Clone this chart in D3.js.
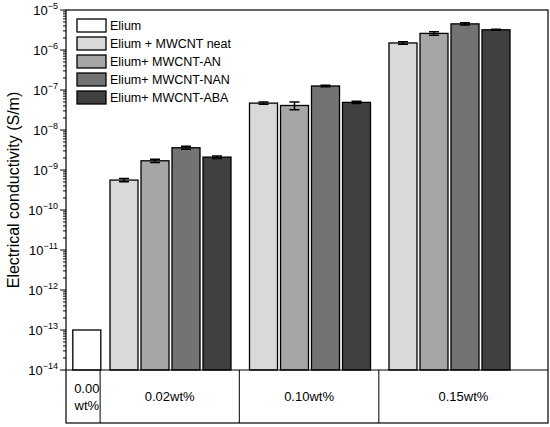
<!DOCTYPE html><html><head><meta charset="utf-8"><script src="https://d3js.org/d3.v7.min.js"></script>
<style>body{margin:0;background:#fff}text{font-family:Arial,"Liberation Sans",sans-serif}</style></head><body><svg id="c" width="550" height="427"></svg>
<script>
const groups=["0.02wt%","0.10wt%","0.15wt%"];
const series=["Elium + MWCNT neat","Elium+ MWCNT-AN","Elium+ MWCNT-NAN","Elium+ MWCNT-ABA"];
const colors=["#d9d9d9","#a6a6a6","#737373","#404040"];
const eliumValue=1e-13;
const values=[[5.6e-10,1.7e-9,3.6e-9,2.1e-9],[4.7e-8,4.1e-8,1.26e-7,4.9e-8],[1.5e-6,2.6e-6,4.5e-6,3.2e-6]];
const errors=[[0.5e-10,0.15e-9,0.3e-9,0.15e-9],[0.3e-8,0.9e-8,0.05e-7,0.3e-8],[0.1e-6,0.25e-6,0.3e-6,0.1e-6]];
const yTicks=[-5,-6,-7,-8,-9,-10,-11,-12,-13,-14];
const svg=d3.select("#c");
const L=66,R=548,T=10,B=370,TB=423;
const y=d3.scaleLog().domain([1e-14,1e-5]).range([B,T]);
const x=d3.scaleLinear().domain([0,1]).range([124,155]);
const bw=28;
const slot=(g,i)=>g*4.5+i;
svg.append("rect").attr("x",x(-1.2)-14).attr("y",y(eliumValue)).attr("width",bw).attr("height",B-y(eliumValue)).attr("fill","#fff").attr("stroke","#000").attr("stroke-width",1.3);
values.forEach((vs,g)=>vs.forEach((v,i)=>{
 const cx=x(slot(g,i));
 svg.append("rect").attr("x",cx-bw/2).attr("y",y(v)).attr("width",bw).attr("height",B-y(v)).attr("fill",colors[i]).attr("stroke","#000").attr("stroke-width",1.3);
 const e=errors[g][i];
 svg.append("path").attr("d",`M${cx},${y(v+e)}V${y(v-e)}M${cx-5},${y(v+e)}H${cx+5}M${cx-5},${y(v-e)}H${cx+5}`).attr("stroke","#000").attr("stroke-width",1.5).attr("fill","none");
}));
svg.append("rect").attr("x",L).attr("y",T).attr("width",R-L).attr("height",TB-T).attr("fill","none").attr("stroke","#000").attr("stroke-width",1.2);
svg.append("line").attr("x1",L).attr("x2",R).attr("y1",B).attr("y2",B).attr("stroke","#000").attr("stroke-width",1.2);
[-0.77,3.72,8.22].forEach(s=>svg.append("line").attr("x1",x(s)).attr("x2",x(s)).attr("y1",B).attr("y2",TB).attr("stroke","#000").attr("stroke-width",1));
const lab=svg.append("g").attr("font-size",13).attr("text-anchor","middle").attr("fill","#000");
lab.append("text").attr("x",x(-1.2)).attr("y",393).text("0.00");
lab.append("text").attr("x",x(-1.2)).attr("y",410).text("wt%");
groups.forEach((g,i)=>lab.append("text").attr("x",(x([-0.77,3.72,8.22][i])+(i<2?x([3.72,8.22][i]):R))/2).attr("y",401).text(g));
const ax=svg.append("g");
for(let e=-14;e<-5;e++){for(let m=1;m<10;m++){const v=m*Math.pow(10,e);const yy=y(v);ax.append("line").attr("x1",L-(m==1?6:3)).attr("x2",L).attr("y1",yy).attr("y2",yy).attr("stroke","#000");}}
ax.append("line").attr("x1",L-6).attr("x2",L).attr("y1",y(1e-5)).attr("y2",y(1e-5)).attr("stroke","#000");
yTicks.forEach(e=>{const t=ax.append("text").attr("x",L-8).attr("y",y(Math.pow(10,e))+5).attr("text-anchor","end").attr("font-size",13);
 t.append("tspan").text("10");t.append("tspan").attr("font-size",9).attr("dy",-6).text("\u2212"+(-e));});
svg.append("text").attr("transform","translate(19,190) rotate(-90)").attr("text-anchor","middle").attr("font-size",16).text("Electrical conductivity (S/m)");
const leg=svg.append("g");
["Elium"].concat(series).forEach((s,i)=>{const yy=19+i*18;
 leg.append("rect").attr("x",77).attr("y",yy).attr("width",29).attr("height",13).attr("fill",i?colors[i-1]:"#fff").attr("stroke","#000").attr("stroke-width",1.3);
 leg.append("text").attr("x",110).attr("y",yy+11).attr("font-size",12.5).text(s);});
</script></body></html>
